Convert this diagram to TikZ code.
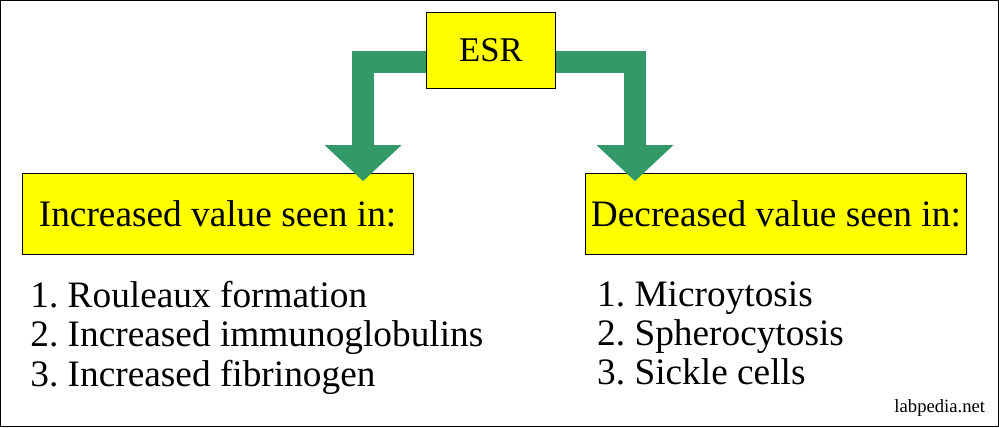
\documentclass[tikz,border=0pt]{standalone}
\usepackage{fontspec}
\setmainfont{Liberation Serif}
\usetikzlibrary{arrows.meta}
\definecolor{esrgreen}{RGB}{52,153,104}
\definecolor{esryellow}{RGB}{255,255,0}
\frenchspacing
\tikzset{
  ybox/.style={draw, fill=esryellow, font=\fontsize{28}{32}\selectfont, inner sep=0pt},
  bigarrow/.style={draw=esrgreen, line width=16pt, -{Triangle[width=56pt,length=27pt]}, shorten >=-6pt},
  itemlist/.style={align=left, anchor=north west, font=\fontsize{28}{29.5}\selectfont, inner sep=0pt}
}
\begin{document}
\begin{tikzpicture}[x=0.75pt, y=-0.75pt]
	\draw[line width=1pt] (0.5,0.5) rectangle (998.5,426.5);
	\node[ybox, minimum width=97pt, minimum height=57pt, font=\fontsize{26}{30}\selectfont] (esr) at (491, 50) {ESR};
	\node[ybox, minimum width=293pt, minimum height=61pt] (inc) at (217.5, 214) {Increased value seen in:};
	\node[ybox, minimum width=286pt, minimum height=61pt] (dec) at (776, 214) {Decreased value seen in:};
	
	\draw[bigarrow] (esr.west |- 0,62) -| (inc.north -| 363,0);
	\draw[bigarrow] (esr.east |- 0,62) -| (dec.north -| 635,0);
	
	\node[itemlist] (inclist) at (30, 281) {1. Rouleaux formation\\2. Increased immunoglobulins\\3. Increased fibrinogen};
	\node[itemlist] (declist) at (597, 281) {1. Microytosis\\2. Spherocytosis\\3. Sickle cells};
	\node[font=\fontsize{14}{16}\selectfont, anchor=east] (site) at (990, 408) {labpedia.net};
\end{tikzpicture}
\end{document}
